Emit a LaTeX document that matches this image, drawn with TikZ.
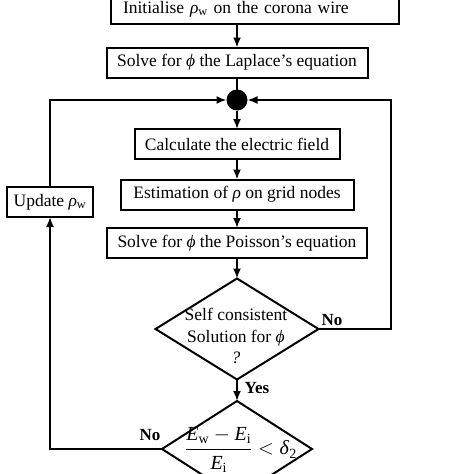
\documentclass[tikz,border=0pt]{standalone}
\usepackage{amsmath}
\usepackage{fontspec}
\setmainfont{Liberation Serif}
\usetikzlibrary{arrows.meta,shapes.geometric,positioning}
\newcommand{\rhow}{\textit{ρ}\textsubscript{w}}
\newcommand{\phit}{\textit{ϕ}}
\newcommand{\Esub}[1]{\text{\textit{E}\textsubscript{#1}}}
\tikzset{
  flowbox/.style={draw,line width=2pt,rectangle,minimum height=30pt,inner xsep=6pt,inner ysep=0pt,outer sep=0pt,font=\fontsize{17.5}{21.5}\selectfont},
  decision/.style={draw,line width=2pt,diamond,inner sep=0pt,outer sep=0pt},
  decisiontext/.style={align=center,inner sep=0pt,font=\fontsize{17.5}{21.5}\selectfont},
  joint/.style={circle,fill=black,inner sep=0pt,minimum size=21pt,outer sep=0pt},
  flow/.style={-{Latex[length=10pt,width=8pt]},line width=1.8pt},
  link/.style={line width=1.8pt},
  answer/.style={inner sep=0pt,font=\fontsize{17}{19}\selectfont\bfseries}
}
\begin{document}
\begin{tikzpicture}[x=1pt,y=-1pt]
  \useasboundingbox (0,0) rectangle (474,474);
  % main column
  \node[flowbox,text width=264pt,inner xsep=12pt,align=left] (init) at (255,9) {Initialise \rhow{} on the corona wire};
  \node[flowbox,minimum width=261pt] (laplace) at (237,62.5) {Solve for \phit{} the Laplace's equation};
  \node[joint] (merge) at (237,100) {};
  \node[flowbox,minimum width=205pt] (field) at (237,144) {Calculate the electric field};
  \node[flowbox,minimum width=233pt] (charge) at (237,194.5) {Estimation of \textit{ρ} on grid nodes};
  \node[flowbox,minimum width=260pt] (poisson) at (237,243) {Solve for \phit{} the Poisson's equation};
  \node[decision,minimum width=163pt,minimum height=101pt] (selfcons) at (237,329) {};
  \node[decisiontext] (selfconstext) at (236,336) {Self consistent\\Solution for \phit\\\textit{?}};
  \node[decision,minimum width=150pt,minimum height=96pt] (converge) at (237,449) {};
  \node[decisiontext,font=\fontsize{20}{24}\selectfont] (convergetext) at (241,450)
    {$\dfrac{\Esub{w} - \Esub{i}}{\Esub{i}} < \text{\textit{δ}\textsubscript{2}}$};
  % side box
  \node[flowbox,minimum width=86pt] (update) at (50,202) {Update \rhow};
  \coordinate (rside) at (391,0);
  % connectors
  \draw[flow] (init.south -| merge) -- (laplace);
  \draw[link] (laplace) -- (merge);
  \draw[flow] (merge) -- (field);
  \draw[flow] (field) -- (charge);
  \draw[flow] (charge) -- (poisson);
  \draw[flow] (poisson) -- (selfcons);
  \draw[flow] (selfcons) -- (converge);
  \draw[flow] (selfcons.east) -| (rside |- merge) -- (merge);
  \draw[flow] (converge.west) -| (update);
  \draw[flow] (update) |- (merge);
  % answers
  \node[answer] (noright) at (332,320) {No};
  \node[answer] (yes) at (257,388) {Yes};
  \node[answer] (noleft) at (150,435) {No};
\end{tikzpicture}
\end{document}
